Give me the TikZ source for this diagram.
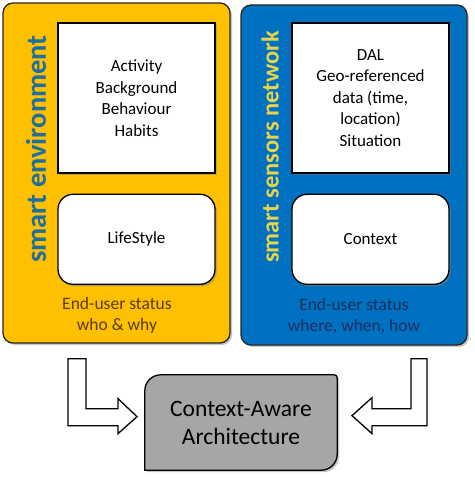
\documentclass[tikz,border=0pt]{standalone}
\usepackage{fontspec}
\setmainfont{Carlito}
\usetikzlibrary{shadows, positioning, calc}

\definecolor{envyellow}{HTML}{FFC000}
\definecolor{sensblue}{HTML}{0070C0}
\definecolor{envtitle}{HTML}{1F6EA0}
\definecolor{senstitle}{HTML}{E8D448}
\definecolor{envstatus}{HTML}{5A3C08}
\definecolor{sensstatus}{HTML}{1C2F5E}
\definecolor{archgray}{HTML}{A6A6A6}

\begin{document}
\begin{tikzpicture}[x=1pt, y=1pt,
            panel/.style={draw=black!85, line width=1.3pt, rounded corners=10pt, minimum width=227pt, minimum height=340pt,
                drop shadow={shadow xshift=2pt, shadow yshift=-2pt, opacity=0.45}},
            topbox/.style={draw=black, line width=1.3pt, fill=white, minimum width=157pt, minimum height=150pt, align=center,
                font=\fontsize{17}{21.5}\selectfont, drop shadow={shadow xshift=2pt, shadow yshift=-2pt, opacity=0.45}},
            softbox/.style={topbox, rounded corners=15pt, minimum height=90pt},
            status/.style={align=center, font=\fontsize{17.5}{21}\selectfont},
            title/.style={rotate=90, font=\bfseries\fontsize{28.5}{32}\selectfont},
            blockarrow/.style={draw=black, line width=1.3pt, fill=white, line join=miter}
        ]
            \useasboundingbox (0,0) rectangle (474,-478);

            % the two panels
            \node[panel, fill=envyellow] (env) at (116.5,-173) {};
            \node[panel, fill=sensblue, minimum width=226pt] (sens) at (354,-175) {};

            \node[title, text=envtitle] (envtitle) at (36,-149) {smart environment};
            \node[title, text=senstitle, font=\bfseries\fontsize{24.5}{28}\selectfont] (senstitle) at (270,-147) {smart sensors network};

            \node[topbox] (activity) at (136.5,-98) {Activity\\Background\\Behaviour\\Habits};
            \node[softbox, below=20pt of activity] (lifestyle) {LifeStyle};
            \node[topbox] (dal) at (370.5,-98) {DAL\\Geo-referenced\\data (time,\\location)\\Situation};
            \node[softbox, below=20pt of dal] (context) {Context};

            \node[status, text=envstatus] (envstatus) at (117,-315) {End-user status\\who \& why};
            \node[status, text=sensstatus] (sensstatus) at (354,-316) {End-user status\\where, when, how};

            % architecture box, round diagonal corners
            \node[minimum width=192pt, minimum height=95pt] (arch) at (241,-422.5) {};
            \draw[line width=1.3pt, fill=archgray, drop shadow={shadow xshift=2pt, shadow yshift=-2pt, opacity=0.45}]
                (arch.south west) [rounded corners=16pt] -- (arch.north west) [rounded corners=3pt] -- (arch.north east)
                [rounded corners=16pt] -- (arch.south east) [sharp corners] -- cycle;
            \node[align=center, font=\fontsize{23.5}{28}\selectfont] (archtext) at (arch) {Context-Aware\\Architecture};

            % block arrows
            \coordinate (envout) at ($(env.south)+(-48.5,-15)$);
            \coordinate (sensout) at ($(sens.south)+(73,-13)$);
            \draw[blockarrow] (envout) -- ++(18,0) -- ++(0,-50) -- ++(32,0) -- ++(0,10) -- ++(19,-18)
                -- ++(-19,-17) -- ++(0,8) -- ++(-50,0) -- cycle;
            \draw[blockarrow] (sensout) -- ++(-16,0) -- ++(0,-50) -- ++(-39,0) -- ++(0,11) -- ++(-20,-18)
                -- ++(20,-18) -- ++(0,8) -- ++(55,0) -- cycle;
        \end{tikzpicture}
\end{document}
